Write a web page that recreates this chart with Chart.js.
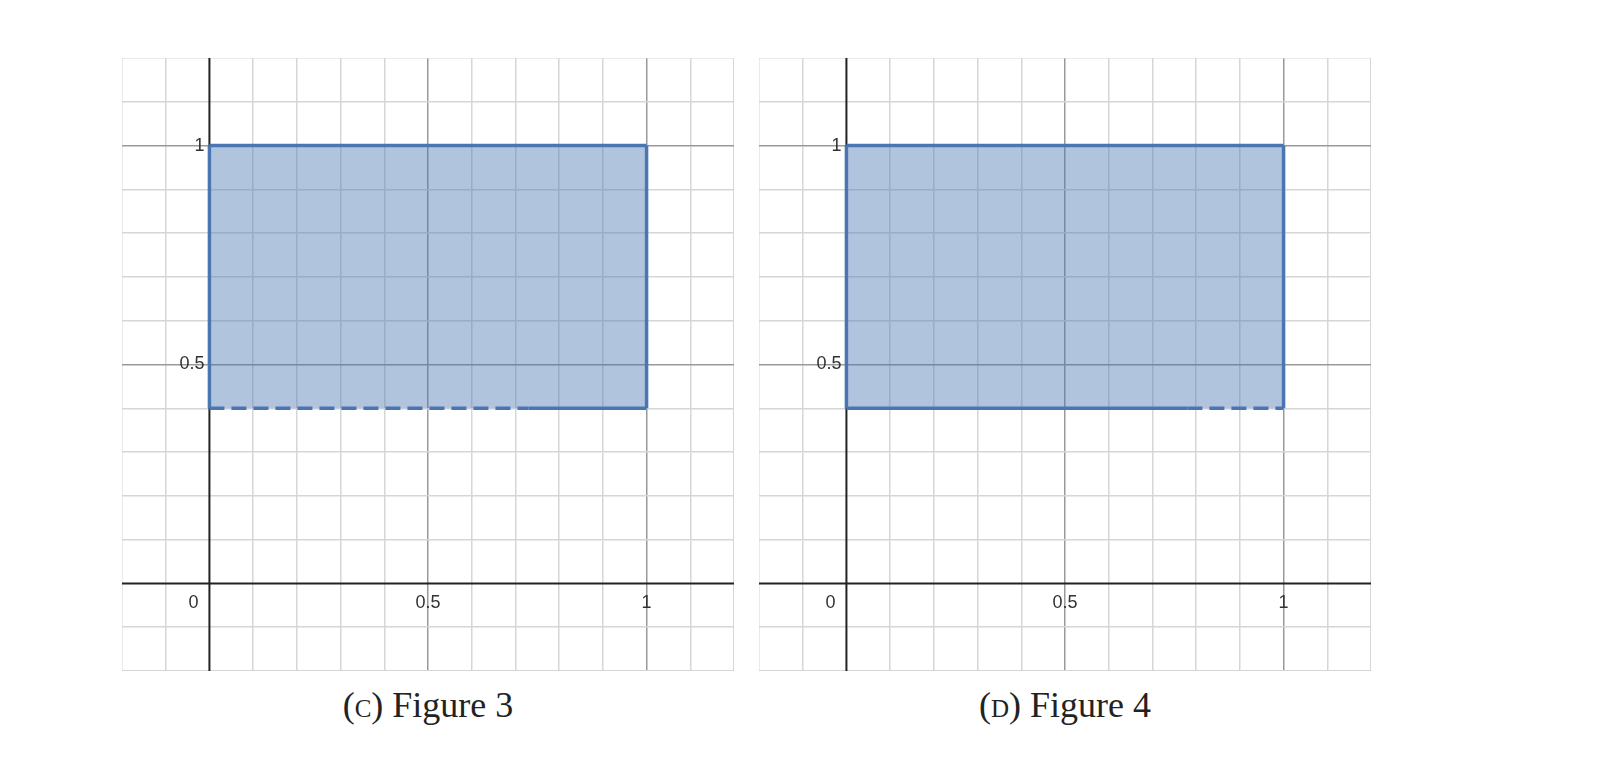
<!DOCTYPE html>
<html>
<head>
<meta charset="utf-8">
<script src="https://cdn.jsdelivr.net/npm/chart.js@4"></script>
<style>
  body { margin: 0; width: 1622px; height: 778px; background: #fff; position: relative; overflow: hidden; }
  .box { position: absolute; top: 58px; width: 612px; height: 613px; }
  .cap { position: absolute; top: 684px; width: 612px; text-align: center;
         font-family: "Liberation Serif", serif; font-size: 36px; color: #222; }
  .sc { font-variant: small-caps; }
</style>
</head>
<body>
<div class="box" style="left:122px"><canvas id="fig3"></canvas></div>
<div class="box" style="left:759px"><canvas id="fig4"></canvas></div>
<div class="cap" style="left:122px">(<span class="sc">c</span>) Figure 3</div>
<div class="cap" style="left:759px">(<span class="sc">d</span>) Figure 4</div>
<script>
// Rectangle corners (shared by both figures)
const rectX = [0, 1];
const rectTop = 1;
const rectBottom = 0.4;
// Where the bottom edge switches between dashed and solid
const fig3DashEnd = 0.73;   // dashed from 0 to here, then solid
const fig4DashStart = 0.78; // solid from 0 to here, then dashed
const xTicks = [0, 0.5, 1];
const yTicks = [0.5, 1];
const axisMin = -0.2, axisMax = 1.2;

const edge = '#4a76b2';
const fillCol = 'rgba(74, 118, 178, 0.43)';

function seg(pts, dashed) {
    return { data: pts, borderColor: edge, borderWidth: 3.5, pointRadius: 0, fill: false,
             borderDash: dashed ? [15, 7] : [] };
}

const axesPlugin = {
    id: 'axes',
    beforeDatasetsDraw(chart) {
        const { ctx, scales: { x, y }, chartArea: a } = chart;
        ctx.save();
        ctx.strokeStyle = '#222';
        ctx.lineWidth = 2;
        ctx.beginPath();
        ctx.moveTo(x.getPixelForValue(0), a.top);
        ctx.lineTo(x.getPixelForValue(0), a.bottom);
        ctx.moveTo(a.left, y.getPixelForValue(0));
        ctx.lineTo(a.right, y.getPixelForValue(0));
        ctx.stroke();
        ctx.restore();
    },
    afterDraw(chart) {
        const { ctx, scales: { x, y } } = chart;
        ctx.save();
        ctx.font = '18px "Liberation Sans", Arial, sans-serif';
        ctx.fillStyle = '#333';
        ctx.textBaseline = 'middle';
        ctx.textAlign = 'center';
        xTicks.forEach(v => {
            const px = v === 0 ? x.getPixelForValue(0) - 16 : x.getPixelForValue(v);
            ctx.fillText(String(v), px, y.getPixelForValue(0) + 20);
        });
        ctx.textAlign = 'right';
        yTicks.forEach(v => {
            ctx.fillText(String(v), x.getPixelForValue(0) - 5, y.getPixelForValue(v));
        });
        ctx.restore();
    }
};

function gridColor(c) {
    const v = c.tick ? c.tick.value : 0;
    if (Math.abs(v) < 1e-6) return 'rgba(0,0,0,0)';
    return Math.abs(v * 2 - Math.round(v * 2)) < 1e-6 ? '#999' : '#d6d6d6';
}

function scale() {
    return {
        type: 'linear', min: axisMin, max: axisMax,
        ticks: { display: false, stepSize: 0.1 },
        grid: { color: gridColor, lineWidth: 1.5, drawTicks: false },
        border: { display: false }
    };
}

function makeChart(id, bottomSegs) {
    new Chart(document.getElementById(id), {
        type: 'line',
        data: {
            datasets: [
                { data: rectX.map(v => ({ x: v, y: rectTop })), borderColor: edge, borderWidth: 3.5,
                  pointRadius: 0, fill: '+1', backgroundColor: fillCol },
                { data: rectX.map(v => ({ x: v, y: rectBottom })), borderWidth: 0, pointRadius: 0, fill: false },
                seg([{ x: rectX[0], y: rectBottom }, { x: rectX[0], y: rectTop }], false),
                seg([{ x: rectX[1], y: rectBottom }, { x: rectX[1], y: rectTop }], false),
                ...bottomSegs
            ]
        },
        options: {
            responsive: true, maintainAspectRatio: false, animation: false,
            layout: { padding: 0 },
            plugins: { legend: { display: false }, tooltip: { enabled: false } },
            scales: { x: scale(), y: scale() }
        },
        plugins: [axesPlugin]
    });
}

makeChart('fig3', [
    seg([{ x: rectX[0], y: rectBottom }, { x: fig3DashEnd, y: rectBottom }], true),
    seg([{ x: fig3DashEnd, y: rectBottom }, { x: rectX[1], y: rectBottom }], false)
]);
makeChart('fig4', [
    seg([{ x: rectX[0], y: rectBottom }, { x: fig4DashStart, y: rectBottom }], false),
    seg([{ x: fig4DashStart, y: rectBottom }, { x: rectX[1], y: rectBottom }], true)
]);
</script>
</body>
</html>
